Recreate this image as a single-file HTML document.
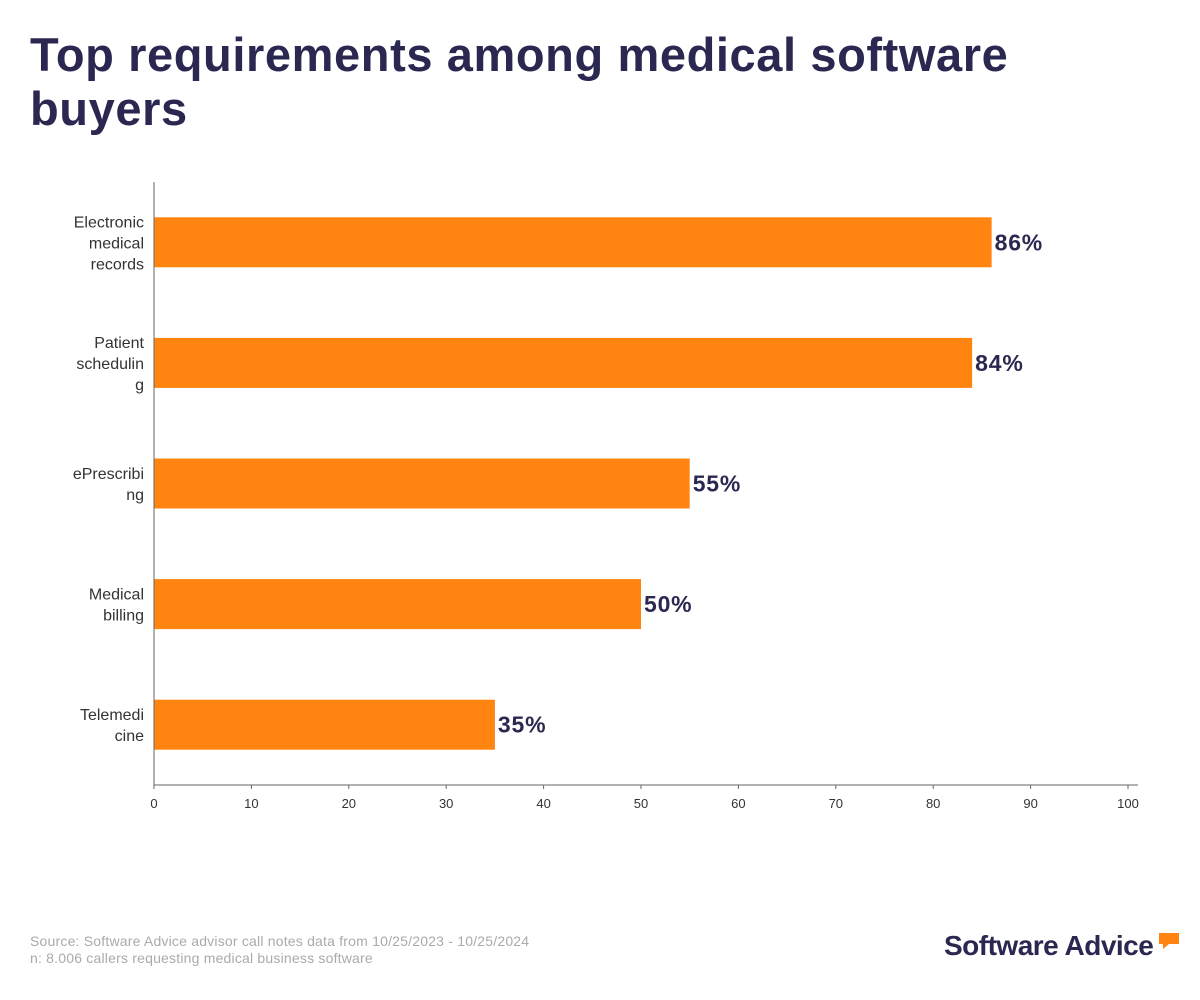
<!DOCTYPE html>
<html><head><meta charset="utf-8"><style>
body{margin:0;width:1200px;height:1000px;background:#fff;font-family:"Liberation Sans",sans-serif;overflow:hidden;position:relative}
#title{position:absolute;left:30px;top:28px;margin:0;font-size:47px;line-height:54px;font-weight:bold;color:#2a2850;letter-spacing:0.6px}
#src{position:absolute;left:30px;top:933px;font-size:14px;line-height:17px;color:#aaa;letter-spacing:0.2px}
#logo{position:absolute;left:944px;top:930px;font-size:28px;font-weight:bold;color:#2a2850;letter-spacing:-0.5px}
</style></head><body>
<h1 id="title">Top requirements among medical software<br>buyers</h1>
<svg id="chart" width="1200" height="1000" style="position:absolute;left:0;top:0"></svg>
<div id="src">Source: Software Advice advisor call notes data from 10/25/2023 - 10/25/2024<br>n: 8.006 callers requesting medical business software</div>
<div id="logo">Software Advice<svg width="24" height="20" style="position:absolute;left:213px;top:2px"><path d="M2 1h20v11h-10l-6 5v-5h-4z" fill="#ff8410"/></svg></div>
<script>
const categories=[["Electronic","medical","records"],["Patient","schedulin","g"],["ePrescribi","ng"],["Medical","billing"],["Telemedi","cine"]];
const values=[86,84,55,50,35];
const ticks=[0,10,20,30,40,50,60,70,80,90,100];
const NS="http://www.w3.org/2000/svg";
const svg=document.getElementById('chart');
const x0=154,x1=1128,yTop=182,yBot=785;
const xs=v=>x0+(v/100)*(x1-x0);
const band=(yBot-yTop)/categories.length;
const yc=i=>yTop+band*(i+0.5);
function mk(t,a){const e=document.createElementNS(NS,t);for(const k in a)e.setAttribute(k,a[k]);svg.appendChild(e);return e;}
values.forEach((v,i)=>{
 const r=mk('rect',{x:x0,y:yc(i)-25,width:xs(v)-x0,height:50,fill:'#ff8410'});
 
 
 const t=mk('text',{x:xs(v)+3,y:yc(i)+8,'font-size':23,'font-weight':'bold',fill:'#2a2850','letter-spacing':0.8});
 t.textContent=v+'%';
 
 
 const lines=categories[i];
 const lt=mk('text',{'text-anchor':'end','font-size':16,fill:'#333'});
 
 
 lines.forEach((s,j)=>{const ts=document.createElementNS(NS,'tspan');ts.setAttribute('x',144);ts.setAttribute('y',yc(i)+6+(j-(lines.length-1)/2)*21);ts.textContent=s;lt.appendChild(ts);});
});
const ya=mk('line',{x1:x0,y1:yTop,x2:x0,y2:yBot,stroke:'#666'});


const xa=mk('line',{x1:x0,y1:yBot,x2:1138,y2:yBot,stroke:'#666'});


ticks.forEach(tv=>{
 mk('line',{x1:xs(tv),y1:yBot,x2:xs(tv),y2:yBot+4,stroke:'#666'});
 const t=mk('text',{x:xs(tv),y:yBot+23,'text-anchor':'middle','font-size':13,fill:'#333'});
 t.textContent=tv;
 
 
});
</script>
</body></html>
